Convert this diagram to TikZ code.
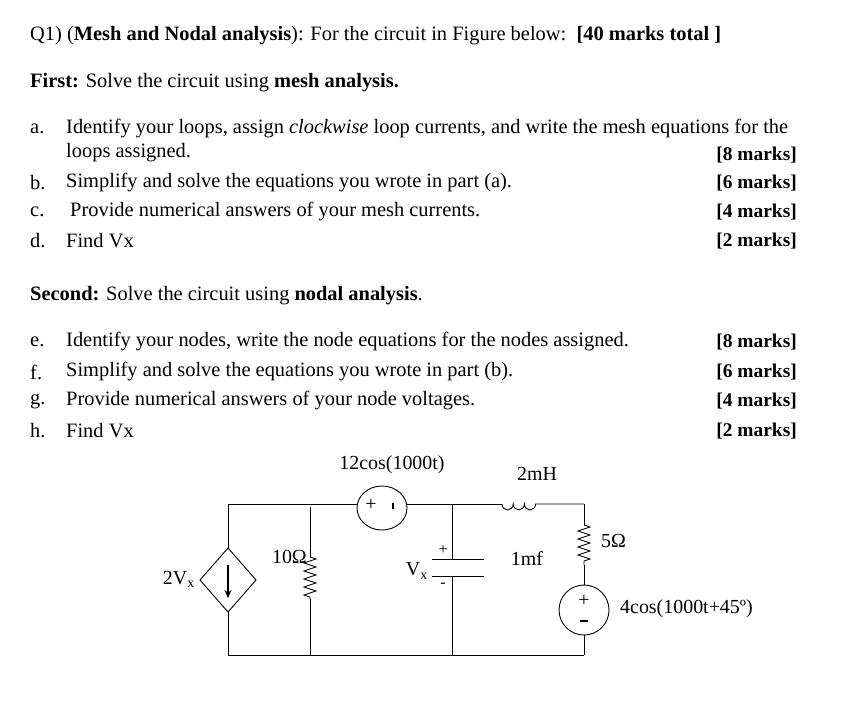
\documentclass[tikz,border=0pt]{standalone}
\usepackage{fontspec}
\setmainfont{Liberation Serif}
\usetikzlibrary{decorations.pathmorphing,arrows.meta}
\begin{document}
\begin{tikzpicture}[x=1bp,y=-1bp,
 txt/.style={anchor=west,inner sep=0,font=\fontsize{20.5}{22}\selectfont},
 mk/.style={anchor=east,inner sep=0,font=\fontsize{19.5}{20}\selectfont\bfseries},
 cl/.style={inner sep=0,font=\fontsize{20}{22}\selectfont},
 w/.style={line width=0.9pt},
 res/.style={w,decorate,decoration={zigzag,amplitude=6bp,segment length=8bp}}]
\useasboundingbox (0,0) rectangle (862,725);
\node[txt] (q) at (30,36) {Q1) (\textbf{Mesh and Nodal analysis}): For the circuit in Figure below:\ \ \textbf{[40 marks total ]}};
\node[txt] (f) at (30,83) {\textbf{First:} Solve the circuit using \textbf{mesh analysis.}};
\node[txt] (a) at (30,129) {a.};
\node[txt] (at) at (66,129) {Identify your loops, assign \textit{clockwise} loop currents, and write the mesh equations for the};
\node[txt] (a2) at (66,153) {loops assigned.};
\node[mk] (ma) at (797,155) {[8 marks]};
\node[txt] (b) at (30,183) {b.};
\node[txt] (bt) at (66,183) {Simplify and solve the equations you wrote in part (a).};
\node[mk] (mb) at (797,183) {[6 marks]};
\node[txt] (c) at (30,212) {c.};
\node[txt] (ct) at (70,212) {Provide numerical answers of your mesh currents.};
\node[mk] (mc) at (797,212) {[4 marks]};
\node[txt] (d) at (30,241) {d.};
\node[txt] (dt) at (66,241) {Find Vx};
\node[mk] (md) at (797,241) {[2 marks]};
\node[txt] (s) at (30,296) {\textbf{Second:} Solve the circuit using \textbf{nodal analysis}.};
\node[txt] (e) at (30,342) {e.};
\node[txt] (et) at (66,342) {Identify your nodes, write the node equations for the nodes assigned.};
\node[mk] (me) at (797,342) {[8 marks]};
\node[txt] (ff) at (30,372) {f.};
\node[txt] (fft) at (66,372) {Simplify and solve the equations you wrote in part (b).};
\node[mk] (mf) at (797,372) {[6 marks]};
\node[txt] (g) at (30,401) {g.};
\node[txt] (gt) at (66,401) {Provide numerical answers of your node voltages.};
\node[mk] (mg) at (797,401) {[4 marks]};
\node[txt] (h) at (30,431) {h.};
\node[txt] (ht) at (66,431) {Find Vx};
\node[mk] (mh) at (797,431) {[2 marks]};
% circuit
\coordinate (tl) at (228,504); \coordinate (bl) at (228,655);
\coordinate (tr) at (584,504); \coordinate (br) at (584,655);
% dependent source
\draw[w] (228,548) -- (256,580) -- (228,612) -- (200,580) -- cycle;
\draw[line width=1.3pt,-{Stealth[length=8bp,width=7bp]}] (228,565) -- (228,598);
\draw[w] (tl) -- (228,548); \draw[w] (228,612) -- (bl);
\node[cl,anchor=east] (l2v) at (195,579) {2V\textsubscript{x}};
% 10 ohm
\draw[w] (310,507) -- (310,557);
\draw[res] (310,557) -- (310,599);
\draw[w] (310,599) -- (310,655);
\node[cl,anchor=east] (l10) at (307,557) {10Ω};
% top wire & source
\draw[w] (tl) -- (357,504);
\draw[w] (382,508) ellipse (25 and 22);
\node[cl] (pl1) at (371,505) {+};
\draw[line width=1.3pt] (393,503) -- (393,509);
\draw[w] (407,504) -- (502,504);
\node[cl] (l12) at (392,465) {12cos(1000t)};
% inductor
\draw[w] (502,504) arc (180:0:5.6 and 6) arc (180:0:5.6 and 6) arc (180:0:5.6 and 6) -- (tr);
\node[cl] (l2m) at (537,474) {2mH};
% capacitor
\draw[w] (452,504) -- (452,559);
\draw[w] (432,559) -- (484,559); \draw[w] (432,576) -- (484,576);
\draw[w] (452,576) -- (452,655);
\node[cl,font=\fontsize{16}{16}\selectfont] (cp) at (443,550) {+};
\node[cl,font=\fontsize{16}{16}\selectfont] (cm) at (443,585) {-};
\node[cl,anchor=east] (lvx) at (428,571) {V\textsubscript{x}};
\node[cl] (l1m) at (527,558) {1mf};
% right branch
\draw[w] (tr) -- (584,525);
\draw[res] (584,525) -- (584,565);
\draw[w] (584,565) -- (584,585);
\node[cl,anchor=west] (l5) at (601,541) {5Ω};
\draw[w] (584,610) ellipse (25 and 25);
\node[cl] (p2) at (584,601) {+};
\draw[line width=2pt] (580,621) -- (588,621);
\draw[w] (584,635) -- (br);
\node[cl,anchor=west] (l4) at (620,609) {4cos(1000t+45º)};
% bottom
\draw[w] (bl) -- (br);
\end{tikzpicture}
\end{document}
